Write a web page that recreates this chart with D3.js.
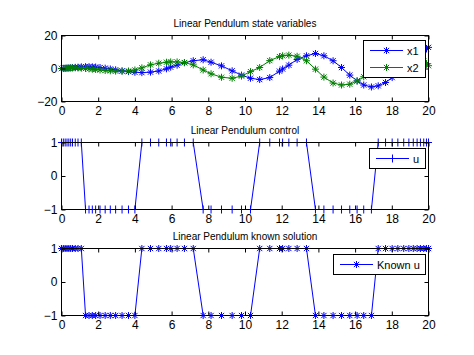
<!DOCTYPE html>
<html>
<head>
<meta charset="utf-8">
<script src="https://cdn.jsdelivr.net/npm/d3@7"></script>
<style>
  body { margin: 0; background: #fff; }
  svg { display: block; font-family: "Liberation Sans", Arial, sans-serif; }
</style>
</head>
<body>
<script>
// time samples (adaptive solver steps)
const t = [0, 0.1, 0.2, 0.3, 0.4, 0.5, 0.6, 0.75, 0.9, 1.08,
  1.31, 1.5, 1.68, 1.86, 2.1, 2.38, 2.66, 2.95, 3.3, 3.65, 4.0,
  4.38, 4.85, 5.3, 5.72, 5.95, 6.3, 6.7, 7.18,
  7.72, 8.15, 8.72, 9.3, 9.81, 10.3,
  10.8, 11.35, 11.88, 12.05, 12.39, 12.84, 13.35,
  13.84, 14.3, 14.8, 15.26, 15.71, 16.11, 16.47, 16.89,
  17.26, 17.66, 18.02, 18.33, 18.65, 18.93, 19.17, 19.38, 19.56, 19.74, 19.89, 20];

const x1 = [0, 0.05, 0.1, 0.2, 0.3, 0.4, 0.5, 0.7, 0.8, 1.0,
  1.1, 1.1, 1.0, 0.9, 0.6, 0.2, -0.3, -0.8, -1.4, -1.9, -2.3,
  -2.5, -2.2, -1.5, -0.2, 0.8, 2.0, 3.5, 4.7,
  5.3, 3.8, 1.6, -1.4, -4.0, -5.9,
  -6.7, -5.5, -1.6, -0.3, 2.0, 5.5, 7.7,
  9.1, 7.7, 4.7, 0.6, -4.0, -7.5, -10.0, -11.2,
  -10.5, -8.5, -5.5, -2.4, 1.2, 4.3, 6.6, 8.4, 9.8, 11.1, 12.1, 12.8];

const x2 = [0, 0.1, 0.2, 0.3, 0.3, 0.4, 0.4, 0.4, 0.3, 0.2,
  0, -0.2, -0.4, -0.6, -0.9, -1.2, -1.4, -1.6, -1.7, -1.5, -0.9,
  0.4, 2.2, 3.2, 3.8, 4.0, 4.0, 3.6, 2.2,
  -0.9, -3.2, -5.3, -5.9, -4.6, -1.9,
  0.6, 4.8, 7.2, 7.7, 8.1, 7.4, 4.7,
  -0.4, -5.2, -8.8, -10.0, -9.5, -7.6, -5.0, -2.8,
  1.5, 6.0, 9.5, 11.0, 11.5, 10.8, 9.5, 8.0, 6.5, 4.5, 3.0, 1.7];

const u = [1, 1, 1, 1, 1, 1, 1, 1, 1, 1,
  -1, -1, -1, -1, -1, -1, -1, -1, -1, -1, -1,
  1, 1, 1, 1, 1, 1, 1, 1,
  -1, -1, -1, -1, -1, -1,
  1, 1, 1, 1, 1, 1, 1,
  -1, -1, -1, -1, -1, -1, -1, -1,
  1, 1, 1, 1, 1, 1, 1, 1, 1, 1, 1, 1];

const knownU = u.slice();

const xTicks = [0, 2, 4, 6, 8, 10, 12, 14, 16, 18, 20];
const yTicksState = [-20, 0, 20];
const yTicksCtrl = [-1, 0, 1];

const width = 474, height = 355;
const svg = d3.select("body").append("svg")
  .attr("width", width).attr("height", height);

const x = d3.scaleLinear().domain([0, 20]).range([61.5, 428.5]);

const panels = [
  { title: "Linear Pendulum state variables", top: 35.5, bottom: 101.5, dom: [-20, 20], ticks: yTicksState,
    series: [{ name: "x1", v: x1, color: "#0000ff", marker: "star" }, { name: "x2", v: x2, color: "#008000", marker: "star" }],
    legend: { x: 363, y: 40, w: 62, h: 37 } },
  { title: "Linear Pendulum control", top: 142.5, bottom: 209.5, dom: [-1, 1], ticks: yTicksCtrl,
    series: [{ name: "u", v: u, color: "#0000ff", marker: "plus" }],
    legend: { x: 369, y: 148, w: 56, h: 20 } },
  { title: "Linear Pendulum known solution", top: 248.5, bottom: 315.5, dom: [-1, 1], ticks: yTicksCtrl,
    series: [{ name: "Known u", v: knownU, color: "#0000ff", marker: "star" }],
    legend: { x: 333, y: 254, w: 92, h: 20 } }
];

function drawMarker(g, type, cx, cy, color) {
  const r = 3.5;
  const p = d3.path();
  p.moveTo(cx - r, cy); p.lineTo(cx + r, cy);
  p.moveTo(cx, cy - r - (type === "plus" ? 0.5 : 0)); p.lineTo(cx, cy + r + (type === "plus" ? 0.5 : 0));
  if (type === "star") {
    const d = r * 0.75;
    p.moveTo(cx - d, cy - d); p.lineTo(cx + d, cy + d);
    p.moveTo(cx - d, cy + d); p.lineTo(cx + d, cy - d);
  }
  g.append("path").attr("d", p.toString()).attr("stroke", color).attr("stroke-width", 1).attr("fill", "none");
}

panels.forEach(pn => {
  const y = d3.scaleLinear().domain(pn.dom).range([pn.bottom, pn.top]);
  const g = svg.append("g");

  // data
  const clipId = "clip" + pn.top;
  svg.append("clipPath").attr("id", clipId).append("rect")
    .attr("x", x(0) - 6).attr("y", pn.top - 6).attr("width", x(20) - x(0) + 12).attr("height", pn.bottom - pn.top + 12);
  const dg = g.append("g").attr("clip-path", `url(#${clipId})`);
  const line = d3.line().x((d, i) => x(t[i])).y(d => y(d));
  pn.series.forEach(s => {
    dg.append("path").datum(s.v).attr("d", line)
      .attr("fill", "none").attr("stroke", s.color).attr("stroke-width", 1);
    s.v.forEach((v, i) => drawMarker(dg, s.marker, x(t[i]), y(v), s.color));
  });

  // axes (ticks inside, MATLAB style)
  const fmt = d3.format("d");
  g.append("g").attr("transform", `translate(0,${pn.bottom})`)
    .call(d3.axisBottom(x).tickValues(xTicks).tickSizeInner(-4).tickSizeOuter(0).tickPadding(5).tickFormat(fmt));
  g.append("g").attr("transform", `translate(0,${pn.top})`)
    .call(d3.axisTop(x).tickValues(xTicks).tickSizeInner(-4).tickSizeOuter(0).tickFormat(""));
  g.append("g").attr("transform", `translate(${x(0)},0)`)
    .call(d3.axisLeft(y).tickValues(pn.ticks).tickSizeInner(-4).tickSizeOuter(0).tickPadding(4).tickFormat(fmt));
  g.append("g").attr("transform", `translate(${x(20)},0)`)
    .call(d3.axisRight(y).tickValues(pn.ticks).tickSizeInner(-4).tickSizeOuter(0).tickFormat(""));
  g.selectAll(".domain").remove();
  g.selectAll(".tick line").attr("stroke", "#000");
  g.selectAll(".tick text").attr("fill", "#000").style("font-size", "12px");
  g.append("rect").attr("x", x(0)).attr("y", pn.top)
    .attr("width", x(20) - x(0)).attr("height", pn.bottom - pn.top)
    .attr("fill", "none").attr("stroke", "#000");

  // title
  g.append("text").attr("x", (x(0) + x(20)) / 2).attr("y", pn.top - 9)
    .attr("text-anchor", "middle").style("font-size", "10px").attr("fill", "#000")
    .text(pn.title);

  // legend
  const L = pn.legend;
  const lg = g.append("g");
  lg.append("rect").attr("x", L.x + 0.5).attr("y", L.y + 0.5).attr("width", L.w).attr("height", L.h)
    .attr("fill", "#fff").attr("stroke", "#000");
  pn.series.forEach((s, i) => {
    const ly = L.y + (pn.series.length > 1 ? 10.5 + i * 17 : L.h / 2 + 0.5);
    const lx0 = L.x + 7, lx1 = L.x + 40;
    lg.append("line").attr("x1", lx0).attr("x2", lx1).attr("y1", ly).attr("y2", ly)
      .attr("stroke", s.color);
    drawMarker(lg, s.marker, (lx0 + lx1) / 2, ly, s.color);
    lg.append("text").attr("x", lx1 + 4).attr("y", ly + 4).style("font-size", "11px").attr("fill", "#000").text(s.name);
  });
});
</script>
</body>
</html>
